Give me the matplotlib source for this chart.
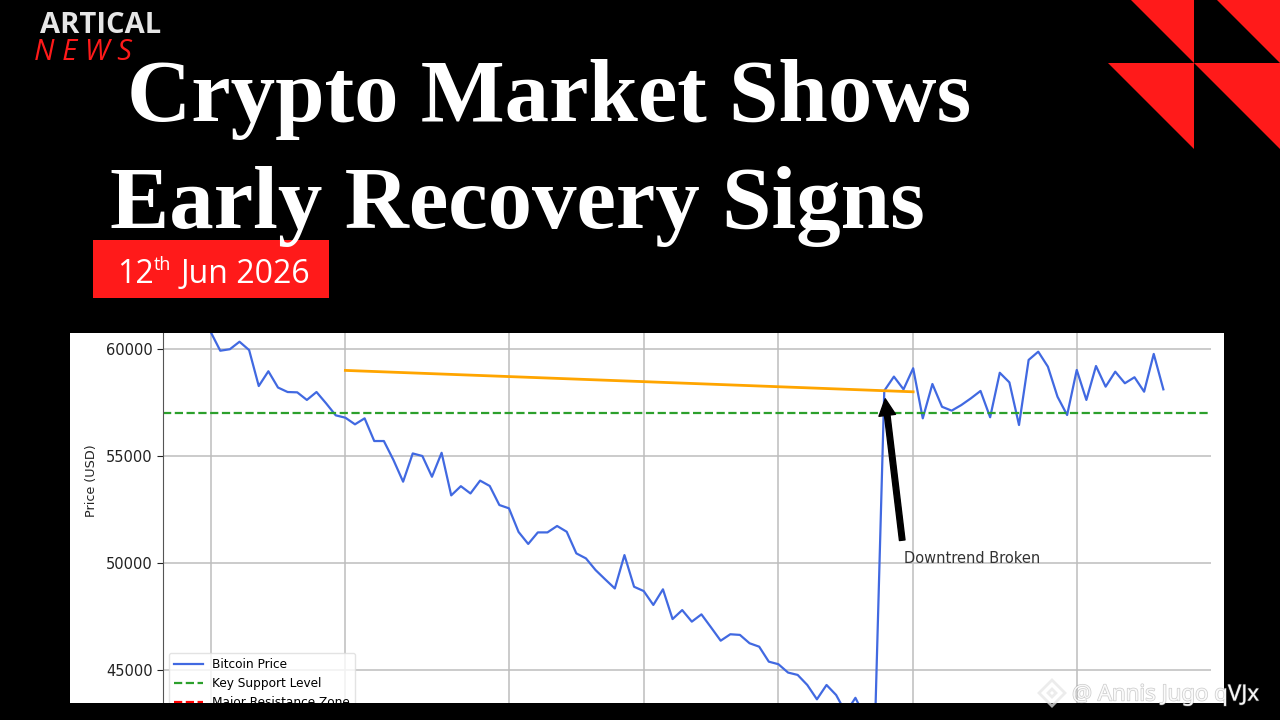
import pandas as pd
import matplotlib
matplotlib.use("Agg")
import matplotlib.pyplot as plt
import matplotlib.dates as mdates
import matplotlib.patheffects as pe
from matplotlib.patches import Rectangle, Polygon
from matplotlib.transforms import IdentityTransform

# data
dates = pd.date_range("2025-01-01", periods=100, freq="D")
prices = [
    60800, 59920, 59990, 60340, 59950, 58270, 58960, 58200, 57990, 57975,
    57620, 57990, 57460, 56900, 56790, 56480, 56760, 55700, 55700, 54810,
    53800, 55120, 55000, 54030, 55150, 53160, 53590, 53250, 53850, 53600,
    52710, 52555, 51450, 50890, 51430, 51430, 51730, 51460, 50450, 50215,
    49670, 49235, 48810, 50370, 48890, 48690, 48040, 48770, 47380, 47800,
    47260, 47600, 46990, 46370, 46670, 46640, 46250, 46090, 45390, 45270,
    44880, 44770, 44300, 43630, 44300, 43830, 43000, 43700, 42800, 41800,
    58050, 58710, 58115, 59100, 56760, 58365, 57300, 57120, 57380, 57695,
    58040, 56810, 58890, 58440, 56450, 59490, 59875, 59175, 57770, 56915,
    59020, 57620, 59205, 58240, 58940, 58400, 58680, 58005, 59770, 58115,
]
support_level = 57000
resistance_level = 62000
trend_dates = pd.to_datetime(["2025-01-15", "2025-03-15"])
trend_values = [59000, 58000]
yticks = [45000, 50000, 55000, 60000]
visible_ylim = (43458, 60748)
breakout_idx = 70
label_date = pd.Timestamp("2025-03-14")
label_value = 50000

RED = "#ff1a1a"
W, H = 1280, 720


def fx(px):
    return px / W


def fy(py):
    return 1 - py / H


fig = plt.figure(figsize=(12.8, 7.2), dpi=100, facecolor="black")

# white panel holding the chart screenshot
fig.add_artist(Rectangle((fx(70), fy(703)), (1224 - 70) / W, (703 - 333) / H,
                         transform=fig.transFigure, facecolor="white",
                         edgecolor="none", zorder=-1))

ax = fig.add_axes([fx(163), fy(703), (1211 - 163) / W, (703 - 333) / H])
ax.plot(dates, prices, color="royalblue", lw=1.6, label="Bitcoin Price")
ax.axhline(support_level, color="#2ca02c", ls="--", lw=1.6, label="Key Support Level")
ax.axhline(resistance_level, color="red", ls="--", lw=1.6, label="Major Resistance Zone")
ax.plot(trend_dates, trend_values, color="orange", lw=2)

ax.annotate("Downtrend Broken", xy=(dates[breakout_idx], prices[breakout_idx]),
            xytext=(label_date, label_value), fontsize=10.5, color="#333333",
            arrowprops=dict(facecolor="black", shrink=0.05))

ax.set_ylim(*visible_ylim)
ax.set_yticks(yticks)
ax.xaxis.set_major_locator(mdates.DayLocator(bymonthday=[1, 15]))
ax.tick_params(axis="x", bottom=False, labelbottom=False)
ax.tick_params(axis="y", labelsize=10.5, length=4, colors="#222222")
ax.grid(True, color="#bdbdbd", lw=1.1)
for side in ["top", "right", "bottom"]:
    ax.spines[side].set_visible(False)
ax.spines["left"].set_color("#555555")

ax.legend(loc="upper left", bbox_to_anchor=(6 / 1048, 50 / 370), borderaxespad=0,
          fontsize=8.7, handlelength=2.4, edgecolor="#dddddd")

fig.text(fx(91), fy(481), "Price (USD)", rotation=90, ha="center", va="center",
         fontsize=9.2, color="#222222")

# black strip covering the cut-off bottom of the screenshot
fig.add_artist(Rectangle((0, 0), 1, 17 / H, transform=fig.transFigure,
                         facecolor="black", edgecolor="none", zorder=5))

# header
fig.text(fx(40), fy(33), "ARTICAL", fontfamily="Open Sans", fontweight="bold",
         fontsize=21, color="#e6e6e6")
fig.text(fx(34), fy(60), "N E W S", fontfamily="Open Sans", fontstyle="italic",
         fontsize=21, color=RED)

fig.text(fx(127), fy(121), "Crypto Market Shows", fontfamily="Liberation Serif",
         fontweight="bold", fontsize=64, color="white")
fig.text(fx(110), fy(228), "Early Recovery Signs", fontfamily="Liberation Serif",
         fontweight="bold", fontsize=64, color="white")

fig.add_artist(Rectangle((fx(93), fy(298)), (329 - 93) / W, (298 - 240) / H,
                         transform=fig.transFigure, facecolor=RED, edgecolor="none"))
fig.text(fx(117), fy(283), "12", fontfamily="Open Sans", fontsize=23, color="white")
fig.text(fx(154), fy(270), "th", fontfamily="Open Sans", fontsize=13, color="white")
fig.text(fx(181), fy(283), "Jun 2026", fontfamily="Open Sans", fontsize=23, color="white")

# corner triangles
for x0, y0 in [(1108, -23), (1194, -23), (1108, 63), (1194, 63)]:
    tri = [(fx(x0), fy(y0)), (fx(x0 + 86), fy(y0)), (fx(x0 + 86), fy(y0 + 86))]
    fig.add_artist(Polygon(tri, closed=True, transform=fig.transFigure,
                           facecolor=RED, edgecolor="none"))

# watermark
halo = [pe.withStroke(linewidth=1.0, foreground=(0.55, 0.55, 0.55, 0.45))]
fig.text(fx(1072), fy(695), "@ Annis Jugo qVJx", fontfamily="Noto Sans", fontsize=16,
         color=(1, 1, 1, 0.85), va="center", zorder=10, path_effects=halo)
logo_x, logo_y = 1052, H - 693
for r, fill in [(13, "none"), (4, (1, 1, 1, 0.8))]:
    diamond = [(logo_x, logo_y + r), (logo_x + r, logo_y), (logo_x, logo_y - r), (logo_x - r, logo_y)]
    fig.add_artist(Polygon(diamond, closed=True, transform=IdentityTransform(),
                           facecolor=fill, edgecolor=(0.9, 0.9, 0.9, 0.75),
                           lw=2, zorder=10))

fig.savefig("out.png", dpi=100, facecolor="black")
